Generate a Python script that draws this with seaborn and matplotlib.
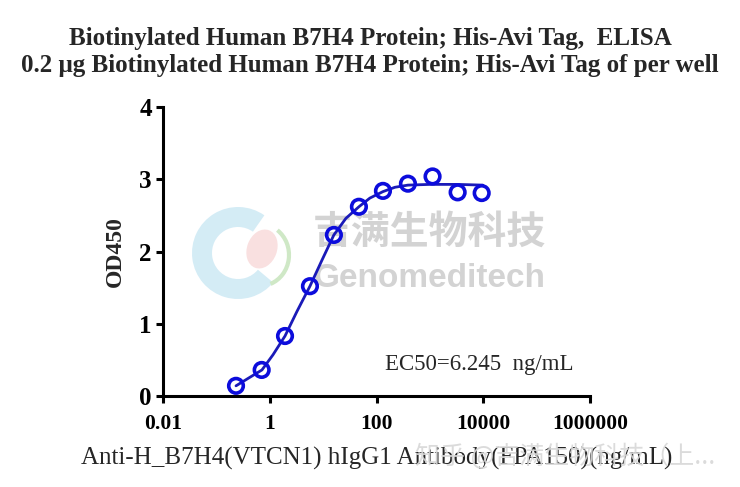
import matplotlib
matplotlib.use("Agg")
import matplotlib.pyplot as plt
from matplotlib.patches import Wedge, Ellipse, Arc
import seaborn as sns
import pandas as pd

# measured points (ng/mL vs OD450)
conc = [0.233, 0.705, 1.93, 5.66, 15.9, 46.8, 132, 388, 1122, 3311, 9340]
od450 = [0.14, 0.36, 0.83, 1.52, 2.23, 2.62, 2.84, 2.94, 3.04, 2.82, 2.81]

# fitted curve
curve_x = [0.233, 0.407, 0.714, 1.15, 1.93, 3.23, 5.66, 9.5, 15.9, 26.7,
           46.8, 75, 132, 221, 388, 1000, 3206, 9840]
curve_y = [0.14, 0.25, 0.36, 0.57, 0.83, 1.17, 1.52, 1.88, 2.23, 2.46,
           2.62, 2.74, 2.83, 2.89, 2.92, 2.93, 2.93, 2.92]

x_ticks = [0.01, 1, 100, 10000, 1000000]
x_ticklabels = ["0.01", "1", "100", "10000", "1000000"]
y_ticks = [0, 1, 2, 3, 4]

title = ("Biotinylated Human B7H4 Protein; His-Avi Tag,  ELISA\n"
         "0.2 μg Biotinylated Human B7H4 Protein; His-Avi Tag of per well")
x_label = "Anti-H_B7H4(VTCN1) hIgG1 Antibody(FPA150)(ng/mL)"
ec50_text = "EC50=6.245  ng/mL"

pts = pd.DataFrame({"conc": conc, "od": od450})
fit = pd.DataFrame({"conc": curve_x, "od": curve_y})

sns.set_style("ticks")
plt.rcParams["font.family"] = ["Liberation Serif", "DejaVu Serif"]

fig = plt.figure(figsize=(7.4, 4.87), dpi=100)

# faint logo watermark behind the plot
logo = fig.add_axes([190 / 740, 1 - 305 / 487, 110 / 740, 105 / 487], zorder=0)
logo.set_xlim(0, 110)
logo.set_ylim(0, 105)
logo.set_aspect("equal")
logo.axis("off")
logo.add_patch(Wedge((48, 52), 46, 55, 320, width=20, color="#c2e4f2", alpha=0.7, lw=0))
logo.add_patch(Ellipse((72, 56), 30, 40, angle=-20, color="#f6cccc", alpha=0.6, lw=0))
logo.add_patch(Arc((70, 50), 58, 62, theta1=-70, theta2=55, color="#cfe8c6", lw=3))

ax = fig.add_axes([0.2203, 0.187, 0.577, 0.593], zorder=1)
ax.set_facecolor("none")

sns.lineplot(data=fit, x="conc", y="od", ax=ax, color="#1a1ab8", linewidth=2.0)
sns.scatterplot(data=pts, x="conc", y="od", ax=ax, s=110, marker="o",
                facecolor="none", edgecolor="#0c0cdc", linewidth=2.6, zorder=5)

ax.set_xscale("log")
ax.set_xlim(0.01, 1000000)
ax.set_ylim(0, 4)
ax.set_xticks(x_ticks)
ax.set_xticklabels(x_ticklabels)
ax.minorticks_off()
ax.set_yticks(y_ticks)
for lab in ax.get_xticklabels():
    lab.set_fontweight("bold")
    lab.set_fontsize(15.5)
for lab in ax.get_yticklabels():
    lab.set_fontweight("bold")
    lab.set_fontsize(18)
ax.tick_params(axis="x", width=2.2, length=5, direction="out", pad=8, colors="black")
ax.tick_params(axis="y", width=2.2, length=5, direction="out", pad=3, colors="black")

for side in ["top", "right"]:
    ax.spines[side].set_visible(False)
for side in ["left", "bottom"]:
    ax.spines[side].set_linewidth(2.2)
    ax.spines[side].set_color("black")

ax.set_xlabel(x_label, fontsize=18, labelpad=9)
ax.set_ylabel("OD450", fontsize=17, fontweight="bold", labelpad=10)

ax.text(0.52, 0.11, ec50_text, transform=ax.transAxes, fontsize=16.5,
        va="center", ha="left")

fig.text(0.5, 0.893, title, ha="center", va="center", fontsize=18,
         fontweight="bold", linespacing=1.2)

# text watermarks
fig.text(0.58, 0.524, "吉满生物科技", fontsize=28, color="#c8c8c8", alpha=0.8,
         ha="center", va="center", fontweight="bold",
         family=["Noto Sans CJK SC", "DejaVu Sans"], zorder=0.5)
fig.text(0.58, 0.428, "Genomeditech", fontsize=24, color="#c8c8c8", alpha=0.8,
         ha="center", va="center", fontweight="bold",
         family=["Liberation Sans", "DejaVu Sans"], zorder=0.5)
fig.text(0.967, 0.061, "知乎 @吉满生物科技（上...", fontsize=18, color="#d8d8d8",
         alpha=0.9, ha="right", va="center",
         family=["Noto Sans CJK SC", "DejaVu Sans"], zorder=2)

fig.savefig("out.png", dpi=100)
